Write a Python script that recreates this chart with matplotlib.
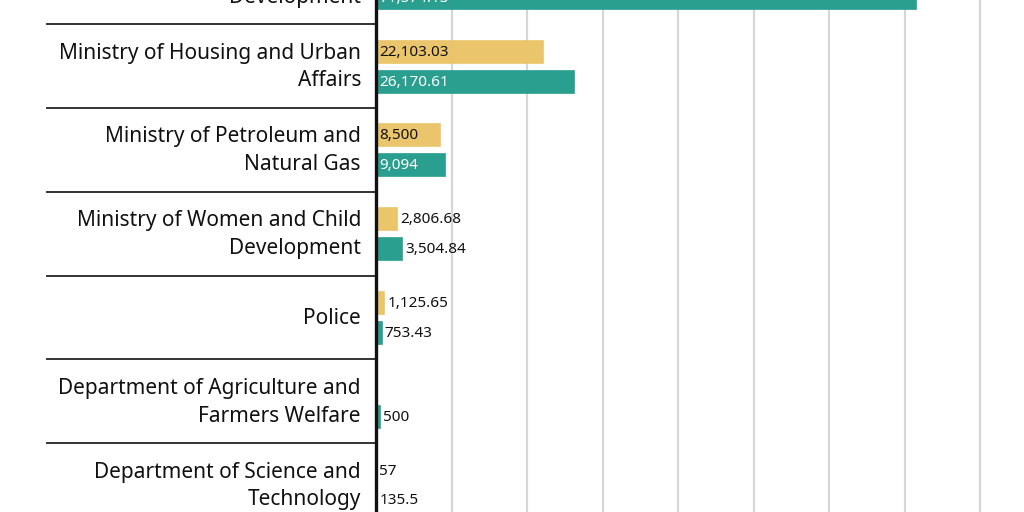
import matplotlib
matplotlib.use("Agg")
import matplotlib.pyplot as plt
import numpy as np

categories = [
    "Ministry of Rural\nDevelopment",
    "Ministry of Housing and Urban\nAffairs",
    "Ministry of Petroleum and\nNatural Gas",
    "Ministry of Women and Child\nDevelopment",
    "Police",
    "Department of Agriculture and\nFarmers Welfare",
    "Department of Science and\nTechnology",
]
series1 = [62000.0, 22103.03, 8500, 2806.68, 1125.65, None, 57]
series2 = [71574.13, 26170.61, 9094, 3504.84, 753.43, 500, 135.5]

col1 = "#EBC56B"
col2 = "#2A9F8F"

def fmt(v):
    s = f"{v:,.2f}"
    if "." in s:
        s = s.rstrip("0").rstrip(".")
    return s

plt.rcParams['font.family'] = ['Noto Sans', 'DejaVu Sans']

W, H = 1024, 512
fig = plt.figure(figsize=(W/100, H/100), dpi=100)
ax = fig.add_axes([376/W, 0, 1 - 376/W, 1])

px_per_unit = 75.5 / 10000
xmax = (W - 376) / px_per_unit
row_px = 83.8
top_center = -17.8

bh = 23 / row_px
off = 15 / row_px
y = np.arange(len(categories))

for i in range(len(categories)):
    for v, yy, c, incol in ((series1[i], y[i] - off, col1, "#111111"),
                            (series2[i], y[i] + off, col2, "white")):
        if v is None:
            continue
        ax.barh(yy, v, height=bh, color=c, edgecolor=c, linewidth=0.5, zorder=2)
        label = fmt(v)
        wpx = v * px_per_unit
        if wpx > 8.0 * len(label) + 6:
            ax.annotate(label, (0, yy), xytext=(3, -1), textcoords="offset pixels",
                        ha="left", va="center", fontsize=11, color=incol, zorder=3,
                        annotation_clip=False)
        else:
            ax.annotate(label, (v, yy), xytext=(3, -1), textcoords="offset pixels",
                        ha="left", va="center", fontsize=11, color="#111111", zorder=3,
                        annotation_clip=False)

ax.set_xticks(np.arange(10000, 90000, 10000))
ax.xaxis.grid(True, color="#d6d6d6", linewidth=1.6)
ax.set_axisbelow(True)
ax.tick_params(axis='x', length=0, labelbottom=False)
ax.set_yticks([])

for i, cat in enumerate(categories):
    ax.annotate(cat, (0, y[i]), xycoords=ax.get_yaxis_transform(),
                xytext=(-15, -1), textcoords="offset pixels",
                ha="right", va="center", fontsize=15, color="#111111",
                linespacing=1.42, annotation_clip=False)

for b in np.arange(len(categories) + 1) - 0.5:
    ax.plot([-(376 - 47) / (W - 376), 0], [b, b], transform=ax.get_yaxis_transform(),
            color="#333333", linewidth=1.4, clip_on=False, zorder=1)

ax.set_xlim(0, xmax)
ax.set_ylim((H - top_center) / row_px, (0 - top_center) / row_px)

for s in ["top", "right", "bottom"]:
    ax.spines[s].set_visible(False)
ax.spines["left"].set_color("#111111")
ax.spines["left"].set_linewidth(2.4)
ax.spines["left"].set_zorder(4)

fig.savefig("out.png", dpi=100)
